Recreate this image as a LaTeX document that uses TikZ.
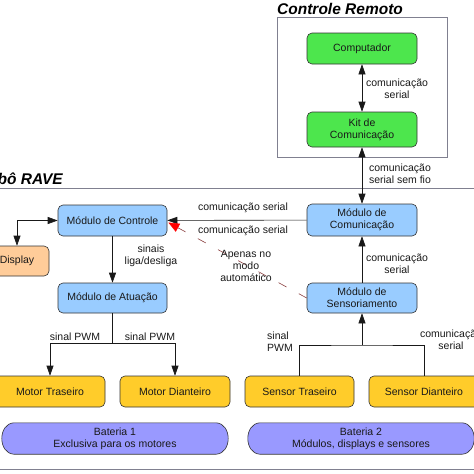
\documentclass[tikz,border=0pt]{standalone}
\usepackage{fontspec}
\setmainfont{Liberation Sans}
\usetikzlibrary{arrows.meta,calc}
\definecolor{bluebox}{HTML}{99CCFF}
\definecolor{greenbox}{HTML}{4DE64D}
\definecolor{yellowbox}{HTML}{FFCC2A}
\definecolor{orangebox}{HTML}{FFCC99}
\definecolor{batbox}{HTML}{9999FF}
\definecolor{framegray}{HTML}{808090}
\definecolor{notecol}{HTML}{8B4040}
\newcommand{\lblfont}{\fontsize{10.5}{12}\selectfont}
\begin{document}
\begin{tikzpicture}[x=1pt,y=-1pt,
  box/.style={draw=black!80, line width=0.6pt, rounded corners=5pt, minimum width=110pt, minimum height=31pt, align=center, inner sep=1pt, font=\lblfont, text=black!90},
  bluen/.style={box, fill=bluebox},
  greenn/.style={box, fill=greenbox},
  yellown/.style={box, fill=yellowbox},
  batn/.style={minimum width=230pt, minimum height=31pt, align=center, inner sep=1pt, font=\lblfont, text=black!90},
  arr/.style={-{Triangle[length=10pt,width=7pt]}, line width=0.6pt, black!90},
  darr/.style={{Triangle[length=10pt,width=7pt]}-{Triangle[length=10pt,width=7pt]}, line width=0.6pt, black!90},
  plain/.style={line width=0.6pt, black!90},
  lab/.style={font=\lblfont, align=center, inner sep=0pt, text=black!90},
  note/.style={notecol, line width=0.6pt, dash pattern=on 9pt off 14pt, -{Triangle[length=11pt,width=9pt,color=red]}},
  title/.style={font=\fontsize{15.5}{18}\selectfont\bfseries\itshape, inner sep=0pt}
]
\useasboundingbox (0,0) rectangle (474,474);

% frames
\draw[framegray, line width=0.8pt] (277,17) rectangle (447,157);
\draw[framegray, line width=1pt] (-5,188) rectangle (479,469);
\node[title, anchor=west] (trem) at (277,9) {Controle Remoto};
\node[title, anchor=east] (trob) at (63,179) {Robô RAVE};

% remote
\node[greenn] (comp) at (362,48.5) {Computador};
\node[greenn, minimum height=35pt] (kit) at (362,129.5) {Kit de\\Comunicação};

% robot modules
\node[bluen, minimum height=32pt] (mcom) at (362,220) {Módulo de\\Comunicação};
\node[bluen, minimum height=30pt] (msen) at (362,298) {Módulo de\\Sensoriamento};
\node[bluen, minimum width=109pt] (mctl) at (112.5,220.5) {Módulo de Controle};
\node[bluen, minimum width=109pt, minimum height=30pt] (matu) at (112.5,298) {Módulo de Atuação};
\node[box, fill=orangebox, minimum width=64pt, minimum height=30pt] (disp) at (17,261) {Display};

% motors and sensors
\node[yellown] (mt) at (50,391.5) {Motor Traseiro};
\node[yellown] (md) at (175,391.5) {Motor Dianteiro};
\node[yellown, minimum width=109pt] (st) at (299.5,391.5) {Sensor Traseiro};
\node[yellown] (sd) at (424,391.5) {Sensor Dianteiro};

% batteries
\node[batn] (b1) at (115,438.5) {};
\node[batn] (b2) at (361,438.5) {};
\foreach \b in {b1,b2}{
  \draw[black!80, line width=0.6pt, fill=batbox]
    ($(\b.north west)+(14,0)$) -- ($(\b.north east)+(-14,0)$)
    .. controls ($(\b.north east)+(2,1)$) and ($(\b.south east)+(2,-1)$) .. ($(\b.south east)+(-14,0)$)
    -- ($(\b.south west)+(14,0)$)
    .. controls ($(\b.south west)+(-2,-1)$) and ($(\b.north west)+(-2,1)$) .. cycle;
}
\node[batn] (b1t) at (b1) {Bateria 1\\Exclusiva para os motores};
\node[batn] (b2t) at (b2) {Bateria 2\\Módulos, displays e sensores};

% connectors
\draw[darr] (comp) -- (kit);
\draw[darr] (kit) -- (mcom);
\draw[arr] (msen) -- (mcom);
\draw[arr] (mcom) -- (mctl);
\draw[arr] (mctl) -- (matu);
\draw[darr] (disp.north) |- (mctl.west);

\coordinate (j1) at (112.5,343);
\draw[plain] (matu.south) -- (j1);
\draw[arr] (j1) -| (mt.north);
\draw[arr] (j1) -| (md.north);

\coordinate (j2) at (362,345);
\draw[plain] (st.north) |- (j2) -| (sd.north);
\draw[arr] (j2) -- (msen.south);

\draw[note] (msen.west) -- ($(mctl.east)+(1,2)$);

% labels
\node[lab] (l1) at (397,89) {comunicação\\serial};
\node[lab] (l2) at (400,174) {comunicação\\serial sem fio};
\node[lab] (l3) at (243,208) {comunicação serial};
\node[lab] (l4) at (243,231) {comunicação serial};
\node[lab] (l5) at (246,266) {Apenas no\\modo\\automático};
\node[lab] (l6) at (151,256) {sinais\\liga/desliga};
\node[lab] (l7) at (397,264) {comunicação\\serial};
\node[lab] (l8) at (75,337) {sinal PWM};
\node[lab] (l9) at (150,337) {sinal PWM};
\node[lab, align=left, anchor=west] (l10) at (267,342) {sinal\\PWM};
\node[lab] (l11) at (451,340) {comunicação\\serial};
\end{tikzpicture}
\end{document}
